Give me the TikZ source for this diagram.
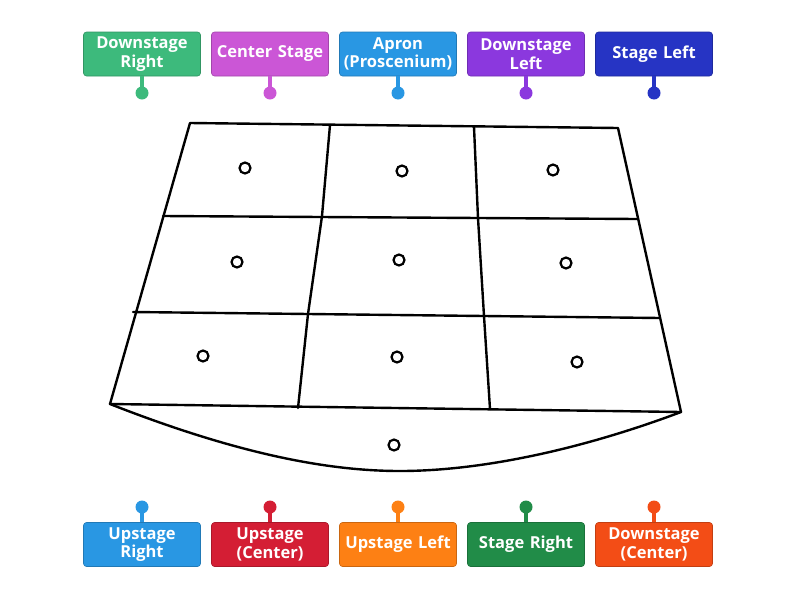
\documentclass[tikz,border=0pt]{standalone}
\usepackage{fontspec}
\setmainfont{Open Sans}
\usetikzlibrary{calc, positioning}
\definecolor{dsRight}{RGB}{61,186,124}
\definecolor{cStage}{RGB}{203,86,214}
\definecolor{apronBlue}{RGB}{41,151,227}
\definecolor{dsLeft}{RGB}{139,56,222}
\definecolor{sLeft}{RGB}{38,52,196}
\definecolor{usCenter}{RGB}{212,30,52}
\definecolor{usLeft}{RGB}{253,128,20}
\definecolor{sRight}{RGB}{33,140,72}
\definecolor{dsCenter}{RGB}{243,77,22}
\tikzset{
    tagBox/.style={rectangle, rounded corners=3pt, fill=#1, draw=#1!80!black, line width=0.6pt, text=white, font=\bfseries\fontsize{16.5}{18.5}\selectfont, align=center, minimum width=117pt, minimum height=44pt, inner sep=0pt, text width=117pt},
    tagDot/.style={circle, fill=#1, inner sep=0pt, minimum size=13pt},
    tagLink/.style={draw=#1, line width=3.5pt},
    stageLine/.style={line width=2.4pt, line join=round, line cap=round},
    spot/.style={circle, draw, line width=2.2pt, inner sep=0pt, minimum size=11pt},
}
\newcommand{\tagTop}[4]{
    \node[tagBox=#3] (#1) at (#2, 54) {#4};
    \node[tagDot=#3] (#1dot) at (#2, 93) {};
    \draw[tagLink=#3] (#1.south) -- (#1dot.center);
}
\newcommand{\tagBottom}[4]{
    \node[tagBox=#3] (#1) at (#2, 544.5) {#4};
    \node[tagDot=#3] (#1dot) at (#2, 507) {};
    \draw[tagLink=#3] (#1.north) -- (#1dot.center);
}
\begin{document}
\begin{tikzpicture}[x=1pt, y=-1pt]
    \useasboundingbox (0, 0) rectangle (800, 600);

    % stage outline
    \coordinate (TL) at (190, 123);
    \coordinate (TR) at (618, 128);
    \coordinate (BL) at (110, 404);
    \coordinate (BR) at (681, 412);
    \draw[stageLine] (BL) -- (TL) -- (TR) -- (BR) -- cycle;
    \draw[stageLine] (163, 216) -- (637, 219);
    \draw[stageLine] (133, 312) -- (660, 318);
    \draw[stageLine] (330, 125) -- (322, 216) -- (308, 314) -- (298, 408);
    \draw[stageLine] (474, 127) -- (478, 218) -- (484, 316) -- (490, 409);
    \draw[stageLine] (BL) .. controls (240, 455) and (330, 471) .. (400, 471)
        .. controls (480, 471) and (580, 450) .. (BR);

    % spots
    \node[spot] (s1) at (245, 168) {};
    \node[spot] (s2) at (402, 171) {};
    \node[spot] (s3) at (553, 170) {};
    \node[spot] (s4) at (237, 262) {};
    \node[spot] (s5) at (399, 260) {};
    \node[spot] (s6) at (566, 263) {};
    \node[spot] (s7) at (203, 356) {};
    \node[spot] (s8) at (397, 357) {};
    \node[spot] (s9) at (577, 362) {};
    \node[spot] (s10) at (394, 445) {};

    % tags
    \tagTop{dr}{142}{dsRight}{Downstage\\Right}
    \tagTop{cs}{270}{cStage}{Center Stage}
    \tagTop{ap}{398}{apronBlue}{Apron\\(Proscenium)}
    \tagTop{dl}{526}{dsLeft}{Downstage\\Left}
    \tagTop{sl}{654}{sLeft}{Stage Left}

    \tagBottom{ur}{142}{apronBlue}{Upstage\\Right}
    \tagBottom{uc}{270}{usCenter}{Upstage\\(Center)}
    \tagBottom{ul}{398}{usLeft}{Upstage Left}
    \tagBottom{sr}{526}{sRight}{Stage Right}
    \tagBottom{dc}{654}{dsCenter}{Downstage\\(Center)}

\end{tikzpicture}
\end{document}
